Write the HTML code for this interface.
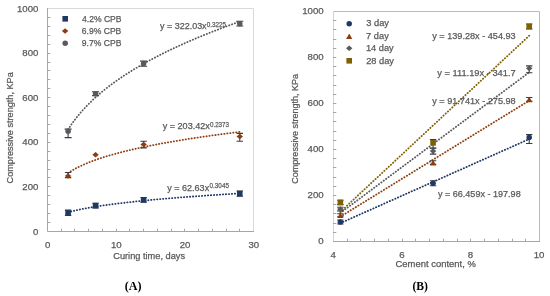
<!DOCTYPE html>
<html><head><meta charset="utf-8"><style>
html,body{margin:0;padding:0;background:#fff;width:550px;height:296px;overflow:hidden;position:relative}
</style></head><body>
<svg width="550" height="296" viewBox="0 0 550 296" style="position:absolute;left:0;top:0;will-change:transform">
<g font-family='"Liberation Sans", sans-serif' stroke-width="0.25">
<path d="M47.5 8.5H253.5V231.5" stroke="#d9d9d9" stroke-width="1" fill="none"/>
<path d="M47.5 8V231.5H254" stroke="#a6a6a6" stroke-width="1" fill="none"/>
<path d="M47 222.50h3.3 M47 213.50h3.3 M47 204.50h3.3 M47 195.50h3.3 M47 186.50h3.3 M47 177.50h3.3 M47 169.50h3.3 M47 160.50h3.3 M47 151.50h3.3 M47 142.50h3.3 M47 133.50h3.3 M47 124.50h3.3 M47 115.50h3.3 M47 106.50h3.3 M47 97.50h3.3 M47 88.50h3.3 M47 79.50h3.3 M47 70.50h3.3 M47 62.50h3.3 M47 53.50h3.3 M47 44.50h3.3 M47 35.50h3.3 M47 26.50h3.3 M47 17.50h3.3 M61.50 232v-3.3 M74.50 232v-3.3 M88.50 232v-3.3 M102.50 232v-3.3 M116.50 232v-3.3 M129.50 232v-3.3 M143.50 232v-3.3 M157.50 232v-3.3 M171.50 232v-3.3 M184.50 232v-3.3 M198.50 232v-3.3 M212.50 232v-3.3 M226.50 232v-3.3 M239.50 232v-3.3" stroke="#a6a6a6" stroke-width="1" fill="none"/>
<text x="33.02" y="234.60" font-size="9.3" fill="#595959" stroke="#595959" stroke-width="0.25" textLength="5.36" lengthAdjust="spacingAndGlyphs">0</text>
<text x="22.31" y="190.00" font-size="9.3" fill="#595959" stroke="#595959" stroke-width="0.25" textLength="16.07" lengthAdjust="spacingAndGlyphs">200</text>
<text x="22.31" y="145.40" font-size="9.3" fill="#595959" stroke="#595959" stroke-width="0.25" textLength="16.07" lengthAdjust="spacingAndGlyphs">400</text>
<text x="22.31" y="100.80" font-size="9.3" fill="#595959" stroke="#595959" stroke-width="0.25" textLength="16.07" lengthAdjust="spacingAndGlyphs">600</text>
<text x="22.31" y="56.20" font-size="9.3" fill="#595959" stroke="#595959" stroke-width="0.25" textLength="16.07" lengthAdjust="spacingAndGlyphs">800</text>
<text x="16.96" y="11.60" font-size="9.3" fill="#595959" stroke="#595959" stroke-width="0.25" textLength="21.42" lengthAdjust="spacingAndGlyphs">1000</text>
<text x="45.12" y="247.70" font-size="9.3" fill="#595959" stroke="#595959" stroke-width="0.25" textLength="5.36" lengthAdjust="spacingAndGlyphs">0</text>
<text x="110.93" y="247.70" font-size="9.3" fill="#595959" stroke="#595959" stroke-width="0.25" textLength="10.71" lengthAdjust="spacingAndGlyphs">10</text>
<text x="179.72" y="247.70" font-size="9.3" fill="#595959" stroke="#595959" stroke-width="0.25" textLength="10.71" lengthAdjust="spacingAndGlyphs">20</text>
<text x="248.45" y="247.70" font-size="9.3" fill="#595959" stroke="#595959" stroke-width="0.25" textLength="10.71" lengthAdjust="spacingAndGlyphs">30</text>
<text x="0" y="0" font-size="9.3" fill="#595959" stroke="#595959" textLength="111.26" lengthAdjust="spacingAndGlyphs" transform="translate(12.60 183.46) rotate(-90)">Compressive strength, KPa</text>
<text x="113.23" y="259.30" font-size="9.3" fill="#595959" stroke="#595959" stroke-width="0.25" textLength="71.90" lengthAdjust="spacingAndGlyphs">Curing time, days</text>
<path d="M68.10 212.38 L69.82 211.90 L71.53 211.45 L73.25 211.01 L74.97 210.60 L76.68 210.20 L78.40 209.82 L80.12 209.45 L81.83 209.10 L83.55 208.76 L85.27 208.43 L86.98 208.11 L88.70 207.80 L90.42 207.50 L92.13 207.20 L93.85 206.92 L95.57 206.64 L97.28 206.37 L99.00 206.10 L100.72 205.85 L102.43 205.59 L104.15 205.34 L105.87 205.10 L107.58 204.86 L109.30 204.63 L111.02 204.40 L112.73 204.18 L114.45 203.96 L116.17 203.74 L117.88 203.53 L119.60 203.32 L121.32 203.12 L123.03 202.91 L124.75 202.71 L126.47 202.52 L128.18 202.33 L129.90 202.14 L131.62 201.95 L133.33 201.76 L135.05 201.58 L136.77 201.40 L138.48 201.22 L140.20 201.05 L141.92 200.88 L143.63 200.71 L145.35 200.54 L147.07 200.37 L148.78 200.21 L150.50 200.04 L152.22 199.88 L153.93 199.72 L155.65 199.57 L157.37 199.41 L159.08 199.26 L160.80 199.10 L162.52 198.95 L164.23 198.81 L165.95 198.66 L167.67 198.51 L169.38 198.37 L171.10 198.22 L172.82 198.08 L174.53 197.94 L176.25 197.80 L177.97 197.67 L179.68 197.53 L181.40 197.39 L183.12 197.26 L184.83 197.13 L186.55 196.99 L188.27 196.86 L189.98 196.73 L191.70 196.61 L193.42 196.48 L195.13 196.35 L196.85 196.23 L198.57 196.10 L200.28 195.98 L202.00 195.86 L203.72 195.74 L205.43 195.61 L207.15 195.49 L208.87 195.38 L210.58 195.26 L212.30 195.14 L214.02 195.03 L215.73 194.91 L217.45 194.80 L219.17 194.68 L220.88 194.57 L222.60 194.46 L224.32 194.34 L226.03 194.23 L227.75 194.12 L229.47 194.02 L231.18 193.91 L232.90 193.80 L234.62 193.69 L236.33 193.59 L238.05 193.48 L239.77 193.37" stroke="#1f3864" stroke-width="1.8" stroke-dasharray="0.3 2.7" stroke-linecap="round" fill="none"/>
<path d="M68.10 173.03 L69.82 171.90 L71.53 170.83 L73.25 169.83 L74.97 168.87 L76.68 167.95 L78.40 167.08 L80.12 166.24 L81.83 165.44 L83.55 164.67 L85.27 163.92 L86.98 163.20 L88.70 162.50 L90.42 161.83 L92.13 161.17 L93.85 160.53 L95.57 159.92 L97.28 159.31 L99.00 158.73 L100.72 158.16 L102.43 157.60 L104.15 157.05 L105.87 156.52 L107.58 156.00 L109.30 155.49 L111.02 154.99 L112.73 154.51 L114.45 154.03 L116.17 153.56 L117.88 153.10 L119.60 152.64 L121.32 152.20 L123.03 151.77 L124.75 151.34 L126.47 150.92 L128.18 150.50 L129.90 150.09 L131.62 149.69 L133.33 149.30 L135.05 148.91 L136.77 148.52 L138.48 148.15 L140.20 147.77 L141.92 147.41 L143.63 147.05 L145.35 146.69 L147.07 146.34 L148.78 145.99 L150.50 145.64 L152.22 145.31 L153.93 144.97 L155.65 144.64 L157.37 144.31 L159.08 143.99 L160.80 143.67 L162.52 143.36 L164.23 143.04 L165.95 142.74 L167.67 142.43 L169.38 142.13 L171.10 141.83 L172.82 141.54 L174.53 141.24 L176.25 140.95 L177.97 140.67 L179.68 140.38 L181.40 140.10 L183.12 139.83 L184.83 139.55 L186.55 139.28 L188.27 139.01 L189.98 138.74 L191.70 138.48 L193.42 138.21 L195.13 137.95 L196.85 137.69 L198.57 137.44 L200.28 137.18 L202.00 136.93 L203.72 136.68 L205.43 136.44 L207.15 136.19 L208.87 135.95 L210.58 135.71 L212.30 135.47 L214.02 135.23 L215.73 134.99 L217.45 134.76 L219.17 134.53 L220.88 134.30 L222.60 134.07 L224.32 133.84 L226.03 133.62 L227.75 133.40 L229.47 133.17 L231.18 132.95 L232.90 132.73 L234.62 132.52 L236.33 132.30 L238.05 132.09 L239.77 131.87" stroke="#8e3e0c" stroke-width="1.8" stroke-dasharray="0.3 2.7" stroke-linecap="round" fill="none"/>
<path d="M68.10 129.55 L69.82 126.88 L71.53 124.34 L73.25 121.92 L74.97 119.60 L76.68 117.39 L78.40 115.26 L80.12 113.20 L81.83 111.22 L83.55 109.31 L85.27 107.46 L86.98 105.66 L88.70 103.92 L90.42 102.22 L92.13 100.57 L93.85 98.96 L95.57 97.39 L97.28 95.86 L99.00 94.37 L100.72 92.90 L102.43 91.47 L104.15 90.07 L105.87 88.70 L107.58 87.36 L109.30 86.04 L111.02 84.74 L112.73 83.47 L114.45 82.22 L116.17 81.00 L117.88 79.79 L119.60 78.60 L121.32 77.43 L123.03 76.29 L124.75 75.15 L126.47 74.04 L128.18 72.94 L129.90 71.86 L131.62 70.79 L133.33 69.74 L135.05 68.70 L136.77 67.67 L138.48 66.66 L140.20 65.66 L141.92 64.67 L143.63 63.70 L145.35 62.74 L147.07 61.79 L148.78 60.84 L150.50 59.91 L152.22 59.00 L153.93 58.09 L155.65 57.19 L157.37 56.30 L159.08 55.42 L160.80 54.55 L162.52 53.68 L164.23 52.83 L165.95 51.99 L167.67 51.15 L169.38 50.32 L171.10 49.50 L172.82 48.69 L174.53 47.88 L176.25 47.08 L177.97 46.29 L179.68 45.51 L181.40 44.73 L183.12 43.96 L184.83 43.20 L186.55 42.44 L188.27 41.69 L189.98 40.94 L191.70 40.20 L193.42 39.47 L195.13 38.74 L196.85 38.02 L198.57 37.30 L200.28 36.59 L202.00 35.89 L203.72 35.19 L205.43 34.49 L207.15 33.81 L208.87 33.12 L210.58 32.44 L212.30 31.77 L214.02 31.10 L215.73 30.43 L217.45 29.77 L219.17 29.11 L220.88 28.46 L222.60 27.82 L224.32 27.17 L226.03 26.53 L227.75 25.90 L229.47 25.27 L231.18 24.64 L232.90 24.02 L234.62 23.40 L236.33 22.78 L238.05 22.17 L239.77 21.57" stroke="#595959" stroke-width="1.8" stroke-dasharray="0.3 2.7" stroke-linecap="round" fill="none"/>
<path d="M68.10 210.17V215.37M64.90 210.17H71.30M64.90 215.37H71.30" stroke="#3a3a4a" stroke-width="1.1" fill="none"/>
<path d="M95.57 203.23V208.03M92.37 203.23H98.77M92.37 208.03H98.77" stroke="#3a3a4a" stroke-width="1.1" fill="none"/>
<path d="M143.63 197.43V202.23M140.43 197.43H146.83M140.43 202.23H146.83" stroke="#3a3a4a" stroke-width="1.1" fill="none"/>
<path d="M239.77 190.99V196.19M236.57 190.99H242.97M236.57 196.19H242.97" stroke="#3a3a4a" stroke-width="1.1" fill="none"/>
<path d="M68.10 172.47V177.67M64.90 172.47H71.30M64.90 177.67H71.30" stroke="#3a3a4a" stroke-width="1.1" fill="none"/>
<path d="M143.63 141.23V147.83M140.43 141.23H146.83M140.43 147.83H146.83" stroke="#3a3a4a" stroke-width="1.1" fill="none"/>
<path d="M239.77 133.40V141.20M236.57 133.40H242.97M236.57 141.20H242.97" stroke="#3a3a4a" stroke-width="1.1" fill="none"/>
<path d="M68.10 129.15V137.65M64.60 129.15H71.60M64.60 137.65H71.60" stroke="#3a3a4a" stroke-width="1.1" fill="none"/>
<path d="M95.57 91.79V95.59M92.07 91.79H99.07M92.07 95.59H99.07" stroke="#3a3a4a" stroke-width="1.1" fill="none"/>
<path d="M143.63 61.08V66.18M140.13 61.08H147.13M140.13 66.18H147.13" stroke="#3a3a4a" stroke-width="1.1" fill="none"/>
<path d="M239.77 21.26V26.06M236.27 21.26H243.27M236.27 26.06H243.27" stroke="#3a3a4a" stroke-width="1.1" fill="none"/>
<rect x="65.30" y="209.97" width="5.6" height="5.6" fill="#1f3864"/>
<rect x="92.77" y="202.83" width="5.6" height="5.6" fill="#1f3864"/>
<rect x="140.83" y="197.03" width="5.6" height="5.6" fill="#1f3864"/>
<rect x="236.97" y="190.79" width="5.6" height="5.6" fill="#1f3864"/>
<path d="M68.10 173.16L71.30 175.97L68.10 178.79L64.90 175.97Z" fill="#8e3e0c"/>
<path d="M95.57 151.97L98.77 154.79L95.57 157.60L92.37 154.79Z" fill="#8e3e0c"/>
<path d="M143.63 141.71L146.83 144.53L143.63 147.35L140.43 144.53Z" fill="#8e3e0c"/>
<path d="M239.77 133.69L242.97 136.50L239.77 139.32L236.57 136.50Z" fill="#8e3e0c"/>
<circle cx="68.10" cy="131.15" r="2.75" fill="#595959"/>
<circle cx="95.57" cy="93.69" r="2.75" fill="#595959"/>
<circle cx="143.63" cy="63.58" r="2.75" fill="#595959"/>
<circle cx="239.77" cy="23.66" r="2.75" fill="#595959"/>
<rect x="62.40" y="16.00" width="5.6" height="5.6" fill="#1f3864"/>
<path d="M65.10 28.18L68.30 31.00L65.10 33.82L61.90 31.00Z" fill="#8e3e0c"/>
<circle cx="65.20" cy="43.20" r="2.75" fill="#595959"/>
<text x="82.05" y="22.00" font-size="9.3" fill="#595959" stroke="#595959" stroke-width="0.25" textLength="39.50" lengthAdjust="spacingAndGlyphs">4.2% CPB</text>
<text x="81.82" y="33.90" font-size="9.3" fill="#595959" stroke="#595959" stroke-width="0.25" textLength="39.50" lengthAdjust="spacingAndGlyphs">6.9% CPB</text>
<text x="81.85" y="45.70" font-size="9.3" fill="#595959" stroke="#595959" stroke-width="0.25" textLength="39.50" lengthAdjust="spacingAndGlyphs">9.7% CPB</text>
<text x="160.08" y="29.30" font-size="9.3" fill="#595959" stroke="#595959" stroke-width="0.25" textLength="46.52" lengthAdjust="spacingAndGlyphs">y = 322.03x</text>
<text x="206.65" y="26.80" font-size="7.6" fill="#595959" stroke="#595959" stroke-width="0.25" textLength="19.52" lengthAdjust="spacingAndGlyphs">0.3225</text>
<text x="162.68" y="129.40" font-size="9.3" fill="#595959" stroke="#595959" stroke-width="0.25" textLength="47.22" lengthAdjust="spacingAndGlyphs">y = 203.42x</text>
<text x="209.96" y="126.70" font-size="7.6" fill="#595959" stroke="#595959" stroke-width="0.25" textLength="19.02" lengthAdjust="spacingAndGlyphs">0.2373</text>
<text x="167.18" y="190.80" font-size="9.3" fill="#595959" stroke="#595959" stroke-width="0.25" textLength="42.02" lengthAdjust="spacingAndGlyphs">y = 62.63x</text>
<text x="209.55" y="188.10" font-size="7.6" fill="#595959" stroke="#595959" stroke-width="0.25" textLength="19.41" lengthAdjust="spacingAndGlyphs">0.3045</text>
<path d="M333.5 11.5H539.5V241.5" stroke="#b4b9d0" stroke-width="1" fill="none"/>
<path d="M333.5 11V241" stroke="#d4d4d4" stroke-width="1" fill="none"/>
<path d="M333 241.5H540" stroke="#a6a6a6" stroke-width="1" fill="none"/>
<path d="M333 232.50h3.3 M333 223.50h3.3 M333 213.50h3.3 M333 204.50h3.3 M333 195.50h3.3 M333 186.50h3.3 M333 177.50h3.3 M333 167.50h3.3 M333 158.50h3.3 M333 149.50h3.3 M333 140.50h3.3 M333 131.50h3.3 M333 121.50h3.3 M333 112.50h3.3 M333 103.50h3.3 M333 94.50h3.3 M333 85.50h3.3 M333 75.50h3.3 M333 66.50h3.3 M333 57.50h3.3 M333 48.50h3.3 M333 39.50h3.3 M333 29.50h3.3 M333 20.50h3.3 M347.50 242v-3.3 M360.50 242v-3.3 M374.50 242v-3.3 M388.50 242v-3.3 M402.50 242v-3.3 M415.50 242v-3.3 M429.50 242v-3.3 M443.50 242v-3.3 M457.50 242v-3.3 M470.50 242v-3.3 M484.50 242v-3.3 M498.50 242v-3.3 M512.50 242v-3.3 M525.50 242v-3.3" stroke="#a6a6a6" stroke-width="1" fill="none"/>
<text x="318.32" y="243.80" font-size="9.3" fill="#595959" stroke="#595959" stroke-width="0.25" textLength="5.36" lengthAdjust="spacingAndGlyphs">0</text>
<text x="307.61" y="197.80" font-size="9.3" fill="#595959" stroke="#595959" stroke-width="0.25" textLength="16.07" lengthAdjust="spacingAndGlyphs">200</text>
<text x="307.61" y="151.80" font-size="9.3" fill="#595959" stroke="#595959" stroke-width="0.25" textLength="16.07" lengthAdjust="spacingAndGlyphs">400</text>
<text x="307.61" y="105.80" font-size="9.3" fill="#595959" stroke="#595959" stroke-width="0.25" textLength="16.07" lengthAdjust="spacingAndGlyphs">600</text>
<text x="307.61" y="59.80" font-size="9.3" fill="#595959" stroke="#595959" stroke-width="0.25" textLength="16.07" lengthAdjust="spacingAndGlyphs">800</text>
<text x="302.26" y="13.80" font-size="9.3" fill="#595959" stroke="#595959" stroke-width="0.25" textLength="21.42" lengthAdjust="spacingAndGlyphs">1000</text>
<text x="330.55" y="257.70" font-size="9.3" fill="#595959" stroke="#595959" stroke-width="0.25" textLength="5.36" lengthAdjust="spacingAndGlyphs">4</text>
<text x="399.16" y="257.70" font-size="9.3" fill="#595959" stroke="#595959" stroke-width="0.25" textLength="5.36" lengthAdjust="spacingAndGlyphs">6</text>
<text x="467.86" y="257.70" font-size="9.3" fill="#595959" stroke="#595959" stroke-width="0.25" textLength="5.36" lengthAdjust="spacingAndGlyphs">8</text>
<text x="533.67" y="257.70" font-size="9.3" fill="#595959" stroke="#595959" stroke-width="0.25" textLength="10.71" lengthAdjust="spacingAndGlyphs">10</text>
<text x="0" y="0" font-size="9.3" fill="#595959" stroke="#595959" textLength="109.66" lengthAdjust="spacingAndGlyphs" transform="translate(298.20 183.66) rotate(-90)">Compressive strength, KPa</text>
<text x="395.52" y="267.30" font-size="9.3" fill="#595959" stroke="#595959" stroke-width="0.25" textLength="80.32" lengthAdjust="spacingAndGlyphs">Cement content, %</text>
<path d="M340.37 223.14 L529.20 139.07" stroke="#1f3864" stroke-width="1.8" stroke-dasharray="0.3 2.7" stroke-linecap="round" fill="none"/>
<path d="M340.37 216.65 L529.20 100.60" stroke="#8e3e0c" stroke-width="1.8" stroke-dasharray="0.3 2.7" stroke-linecap="round" fill="none"/>
<path d="M340.37 212.98 L529.20 72.33" stroke="#595959" stroke-width="1.8" stroke-dasharray="0.3 2.7" stroke-linecap="round" fill="none"/>
<path d="M340.37 211.89 L529.20 35.70" stroke="#7f6000" stroke-width="1.8" stroke-dasharray="0.3 2.7" stroke-linecap="round" fill="none"/>
<path d="M340.37 219.95V223.95M337.17 219.95H343.57M337.17 223.95H343.57" stroke="#3a3a4a" stroke-width="1.1" fill="none"/>
<path d="M433.07 180.81V185.81M429.87 180.81H436.27M429.87 185.81H436.27" stroke="#3a3a4a" stroke-width="1.1" fill="none"/>
<path d="M529.20 134.64V143.44M526.00 134.64H532.40M526.00 143.44H532.40" stroke="#3a3a4a" stroke-width="1.1" fill="none"/>
<path d="M340.37 213.78V216.78M337.17 213.78H343.57M337.17 216.78H343.57" stroke="#3a3a4a" stroke-width="1.1" fill="none"/>
<path d="M433.07 160.81V164.41M429.87 160.81H436.27M429.87 164.41H436.27" stroke="#3a3a4a" stroke-width="1.1" fill="none"/>
<path d="M529.20 97.56V101.36M526.00 97.56H532.40M526.00 101.36H532.40" stroke="#3a3a4a" stroke-width="1.1" fill="none"/>
<path d="M340.37 207.27V210.87M337.17 207.27H343.57M337.17 210.87H343.57" stroke="#3a3a4a" stroke-width="1.1" fill="none"/>
<path d="M433.07 148.21V154.11M429.87 148.21H436.27M429.87 154.11H436.27" stroke="#3a3a4a" stroke-width="1.1" fill="none"/>
<path d="M529.20 65.91V72.71M526.00 65.91H532.40M526.00 72.71H532.40" stroke="#3a3a4a" stroke-width="1.1" fill="none"/>
<path d="M340.37 200.20V204.60M337.17 200.20H343.57M337.17 204.60H343.57" stroke="#3a3a4a" stroke-width="1.1" fill="none"/>
<path d="M433.07 139.63V147.93M429.87 139.63H436.27M429.87 147.93H436.27" stroke="#3a3a4a" stroke-width="1.1" fill="none"/>
<path d="M529.20 24.05V28.85M526.00 24.05H532.40M526.00 28.85H532.40" stroke="#3a3a4a" stroke-width="1.1" fill="none"/>
<circle cx="340.37" cy="221.95" r="2.75" fill="#1f3864"/>
<circle cx="433.07" cy="183.31" r="2.75" fill="#1f3864"/>
<circle cx="529.20" cy="137.54" r="2.75" fill="#1f3864"/>
<path d="M340.37 212.48L343.47 218.08L337.27 218.08Z" fill="#8e3e0c"/>
<path d="M433.07 159.81L436.17 165.41L429.97 165.41Z" fill="#8e3e0c"/>
<path d="M529.20 96.56L532.30 102.16L526.10 102.16Z" fill="#8e3e0c"/>
<path d="M340.37 206.25L343.57 209.07L340.37 211.89L337.17 209.07Z" fill="#595959"/>
<path d="M433.07 148.29L436.27 151.11L433.07 153.93L429.87 151.11Z" fill="#595959"/>
<path d="M529.20 65.49L532.40 68.31L529.20 71.13L526.00 68.31Z" fill="#595959"/>
<rect x="337.57" y="199.60" width="5.6" height="5.6" fill="#7f6000"/>
<rect x="430.27" y="140.03" width="5.6" height="5.6" fill="#7f6000"/>
<rect x="526.40" y="23.65" width="5.6" height="5.6" fill="#7f6000"/>
<circle cx="349.20" cy="23.70" r="2.75" fill="#1f3864"/>
<path d="M349.20 33.40L352.30 39.00L346.10 39.00Z" fill="#8e3e0c"/>
<path d="M349.20 45.48L352.40 48.30L349.20 51.12L346.00 48.30Z" fill="#595959"/>
<rect x="346.40" y="58.00" width="5.6" height="5.6" fill="#7f6000"/>
<text x="366.25" y="26.30" font-size="9.3" fill="#595959" stroke="#595959" stroke-width="0.25" textLength="22.67" lengthAdjust="spacingAndGlyphs">3 day</text>
<text x="366.12" y="38.75" font-size="9.3" fill="#595959" stroke="#595959" stroke-width="0.25" textLength="22.67" lengthAdjust="spacingAndGlyphs">7 day</text>
<text x="365.89" y="51.20" font-size="9.3" fill="#595959" stroke="#595959" stroke-width="0.25" textLength="27.83" lengthAdjust="spacingAndGlyphs">14 day</text>
<text x="366.13" y="63.65" font-size="9.3" fill="#595959" stroke="#595959" stroke-width="0.25" textLength="27.83" lengthAdjust="spacingAndGlyphs">28 day</text>
<text x="432.18" y="39.40" font-size="9.3" fill="#595959" stroke="#595959" stroke-width="0.25" textLength="83.52" lengthAdjust="spacingAndGlyphs">y = 139.28x - 454.93</text>
<text x="437.18" y="75.70" font-size="9.3" fill="#595959" stroke="#595959" stroke-width="0.25" textLength="78.58" lengthAdjust="spacingAndGlyphs">y = 111.19x - 341.7</text>
<text x="432.18" y="104.00" font-size="9.3" fill="#595959" stroke="#595959" stroke-width="0.25" textLength="83.52" lengthAdjust="spacingAndGlyphs">y = 91.741x - 275.98</text>
<text x="437.88" y="196.70" font-size="9.3" fill="#595959" stroke="#595959" stroke-width="0.25" textLength="82.82" lengthAdjust="spacingAndGlyphs">y = 66.459x - 197.98</text>
</g>
<text x="124.77" y="289.60" font-size="11.5" fill="#000" stroke="#000" stroke-width="0" textLength="16.76" lengthAdjust="spacingAndGlyphs" font-family='"Liberation Serif", serif' font-weight="bold">(A)</text>
<text x="412.49" y="289.60" font-size="11.5" fill="#000" stroke="#000" stroke-width="0" textLength="15.52" lengthAdjust="spacingAndGlyphs" font-family='"Liberation Serif", serif' font-weight="bold">(B)</text>
</svg>
</body></html>
